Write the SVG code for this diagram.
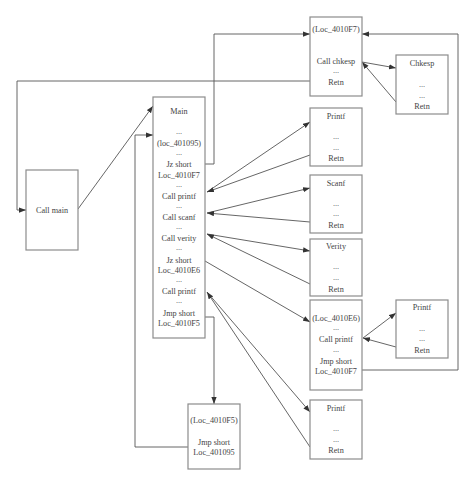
<svg xmlns="http://www.w3.org/2000/svg" width="474" height="486" viewBox="0 0 474 486">
<style>
.box{fill:#fff;stroke:#8c8c8c;stroke-width:1.2}
.t{font-family:"Liberation Serif",serif;font-size:8.2px;fill:#444;text-anchor:middle;dominant-baseline:central}
.c{fill:none;stroke:#555;stroke-width:0.9}
</style>
<defs>
<marker id="a" viewBox="0 0 8 6" refX="8" refY="3" markerWidth="7" markerHeight="5.5" markerUnits="userSpaceOnUse" orient="auto">
<path d="M0,0 L8,3 L0,6 z" fill="#333"/>
</marker>
</defs>
<rect width="474" height="486" fill="#fff"/>
<g id="connectors">
<path class="c" d="M78,209 L153,106" marker-end="url(#a)"/>
<path class="c" d="M310,81 L17,81 L17,210 L26,210" marker-end="url(#a)"/>
<path class="c" d="M205,164 L214,164 L214,34 L310,34" marker-end="url(#a)"/>
<path class="c" d="M188,447 L135,447 L135,135 L153,135" marker-end="url(#a)"/>
<path class="c" d="M205,317 L214,317 L214,404" marker-end="url(#a)"/>
<path class="c" d="M362,370 L458,370 L458,34 L362,34" marker-end="url(#a)"/>
<path class="c" d="M362,62 L396,68" marker-end="url(#a)"/>
<path class="c" d="M396,102 L362,62" marker-end="url(#a)"/>
<path class="c" d="M207,192 L310,122" marker-end="url(#a)"/>
<path class="c" d="M310,155 L207,192" marker-end="url(#a)"/>
<path class="c" d="M207,213 L310,188" marker-end="url(#a)"/>
<path class="c" d="M310,222 L207,213" marker-end="url(#a)"/>
<path class="c" d="M207,234 L310,251" marker-end="url(#a)"/>
<path class="c" d="M310,284 L207,234" marker-end="url(#a)"/>
<path class="c" d="M205,261 L310,322" marker-end="url(#a)"/>
<path class="c" d="M207,292 L310,412" marker-end="url(#a)"/>
<path class="c" d="M310,447 L207,292" marker-end="url(#a)"/>
<path class="c" d="M363,338 L396,313" marker-end="url(#a)"/>
<path class="c" d="M396,347 L363,338" marker-end="url(#a)"/>
</g>
<g id="callmain">
<rect class="box" x="26" y="170" width="52" height="80"/>
<text class="t" x="52" y="210">Call main</text>
</g>
<g id="main">
<rect class="box" x="153" y="97" width="52" height="241"/>
<text class="t" x="179" y="111">Main</text>
<text class="t" x="179" y="131">...</text>
<text class="t" x="179" y="143">(loc_401095)</text>
<text class="t" x="179" y="152">...</text>
<text class="t" x="179" y="164">Jz short</text>
<text class="t" x="179" y="175">Loc_4010F7</text>
<text class="t" x="179" y="184">...</text>
<text class="t" x="179" y="196">Call printf</text>
<text class="t" x="179" y="205">...</text>
<text class="t" x="179" y="217">Call scanf</text>
<text class="t" x="179" y="226">...</text>
<text class="t" x="179" y="238">Call verity</text>
<text class="t" x="179" y="247">...</text>
<text class="t" x="179" y="260">Jz short</text>
<text class="t" x="179" y="270">Loc_4010E6</text>
<text class="t" x="179" y="279">...</text>
<text class="t" x="179" y="291">Call printf</text>
<text class="t" x="179" y="300">...</text>
<text class="t" x="179" y="313">Jmp short</text>
<text class="t" x="179" y="323">Loc_4010F5</text>
</g>
<g id="loc4010f5">
<rect class="box" x="188" y="404" width="52" height="65"/>
<text class="t" x="214" y="420">(Loc_4010F5)</text>
<text class="t" x="214" y="442">Jmp short</text>
<text class="t" x="214" y="452">Loc_401095</text>
</g>
<g id="loc4010f7">
<rect class="box" x="310" y="17" width="52" height="79"/>
<text class="t" x="336" y="29">(Loc_4010F7)</text>
<text class="t" x="336" y="61">Call chkesp</text>
<text class="t" x="336" y="70">...</text>
<text class="t" x="336" y="82">Retn</text>
</g>
<g id="chkesp">
<rect class="box" x="396" y="55" width="52" height="59"/>
<text class="t" x="422" y="63">Chkesp</text>
<text class="t" x="422" y="84">...</text>
<text class="t" x="422" y="95">...</text>
<text class="t" x="422" y="106">Retn</text>
</g>
<g id="printf1">
<rect class="box" x="310" y="108" width="52" height="58"/>
<text class="t" x="336" y="116">Printf</text>
<text class="t" x="336" y="136">...</text>
<text class="t" x="336" y="147">...</text>
<text class="t" x="336" y="158">Retn</text>
</g>
<g id="scanf">
<rect class="box" x="310" y="175" width="52" height="58"/>
<text class="t" x="336" y="183">Scanf</text>
<text class="t" x="336" y="203">...</text>
<text class="t" x="336" y="213">...</text>
<text class="t" x="336" y="225">Retn</text>
</g>
<g id="verity">
<rect class="box" x="310" y="239" width="52" height="57"/>
<text class="t" x="336" y="246">Verity</text>
<text class="t" x="336" y="266">...</text>
<text class="t" x="336" y="277">...</text>
<text class="t" x="336" y="289">Retn</text>
</g>
<g id="loc4010e6">
<rect class="box" x="310" y="300" width="52" height="90"/>
<text class="t" x="336" y="318">(Loc_4010E6)</text>
<text class="t" x="336" y="327">...</text>
<text class="t" x="336" y="339">Call printf</text>
<text class="t" x="336" y="349">...</text>
<text class="t" x="336" y="361">Jmp short</text>
<text class="t" x="336" y="371">Loc_4010F7</text>
</g>
<g id="printf2">
<rect class="box" x="396" y="300" width="52" height="58"/>
<text class="t" x="422" y="307">Printf</text>
<text class="t" x="422" y="328">...</text>
<text class="t" x="422" y="338">...</text>
<text class="t" x="422" y="350">Retn</text>
</g>
<g id="printf3">
<rect class="box" x="310" y="400" width="52" height="59"/>
<text class="t" x="336" y="408">Printf</text>
<text class="t" x="336" y="428">...</text>
<text class="t" x="336" y="439">...</text>
<text class="t" x="336" y="450">Retn</text>
</g>
</svg>
